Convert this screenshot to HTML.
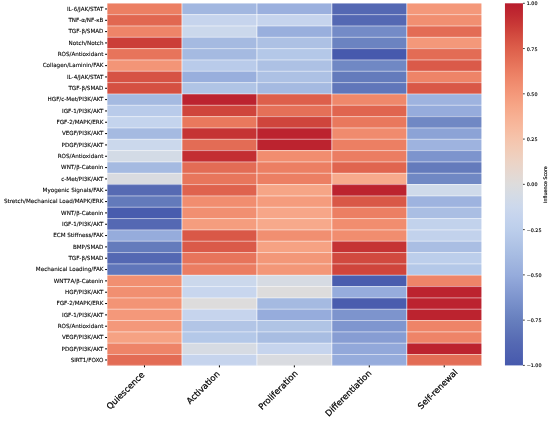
<!DOCTYPE html>
<html lang="en"><head><meta charset="utf-8"><title>Signaling pathway influence heatmap</title>
<style>html,body{margin:0;padding:0;background:#fff}body{width:550px;height:421px;overflow:hidden}svg{display:block}text{font-family:"DejaVu Sans","Liberation Sans",sans-serif;fill:#000}</style></head><body>
<svg width="550" height="421" viewBox="0 0 550 421">
<rect width="550" height="421" fill="#fff"/>
<defs><linearGradient id="cb" x1="0" y1="0" x2="0" y2="1"><stop offset="0.0000" stop-color="#b81c2d"/><stop offset="0.0312" stop-color="#c02a31"/><stop offset="0.0625" stop-color="#ca3b37"/><stop offset="0.0938" stop-color="#d44e41"/><stop offset="0.1250" stop-color="#dd5f4b"/><stop offset="0.1562" stop-color="#e46e56"/><stop offset="0.1875" stop-color="#eb7d62"/><stop offset="0.2188" stop-color="#f08b6e"/><stop offset="0.2500" stop-color="#f4987a"/><stop offset="0.2812" stop-color="#f6a586"/><stop offset="0.3125" stop-color="#f7b093"/><stop offset="0.3438" stop-color="#f7ba9f"/><stop offset="0.3750" stop-color="#f5c4ac"/><stop offset="0.4062" stop-color="#f1ccb8"/><stop offset="0.4375" stop-color="#ecd3c5"/><stop offset="0.4688" stop-color="#e5d8d1"/><stop offset="0.5000" stop-color="#dddcdc"/><stop offset="0.5312" stop-color="#d4dbe5"/><stop offset="0.5625" stop-color="#ccd8ec"/><stop offset="0.5938" stop-color="#c4d3ed"/><stop offset="0.6250" stop-color="#bcceeb"/><stop offset="0.6562" stop-color="#b3c6e7"/><stop offset="0.6875" stop-color="#a9bee3"/><stop offset="0.7188" stop-color="#a0b5df"/><stop offset="0.7500" stop-color="#96acdc"/><stop offset="0.7812" stop-color="#8aa0d5"/><stop offset="0.8125" stop-color="#7e95ce"/><stop offset="0.8438" stop-color="#728ac6"/><stop offset="0.8750" stop-color="#677fbe"/><stop offset="0.9062" stop-color="#5e74b8"/><stop offset="0.9375" stop-color="#5569b3"/><stop offset="0.9688" stop-color="#4e61b0"/><stop offset="1.0000" stop-color="#4659ad"/></linearGradient></defs>
<g shape-rendering="crispEdges">
<rect x="106.80" y="3.10" width="75.34" height="11.73" fill="#ec7f63"/>
<rect x="181.74" y="3.10" width="75.34" height="11.73" fill="#a2b7e0"/>
<rect x="256.68" y="3.10" width="75.34" height="11.73" fill="#9bb0de"/>
<rect x="331.62" y="3.10" width="75.34" height="11.73" fill="#5468b3"/>
<rect x="406.56" y="3.10" width="75.34" height="11.73" fill="#f4987a"/>
<rect x="106.80" y="14.43" width="75.34" height="11.73" fill="#e16751"/>
<rect x="181.74" y="14.43" width="75.34" height="11.73" fill="#c6d4ed"/>
<rect x="256.68" y="14.43" width="75.34" height="11.73" fill="#c6d4ed"/>
<rect x="331.62" y="14.43" width="75.34" height="11.73" fill="#5468b3"/>
<rect x="406.56" y="14.43" width="75.34" height="11.73" fill="#f18f71"/>
<rect x="106.80" y="25.76" width="75.34" height="11.73" fill="#ee8468"/>
<rect x="181.74" y="25.76" width="75.34" height="11.73" fill="#cbd8ec"/>
<rect x="256.68" y="25.76" width="75.34" height="11.73" fill="#99afdd"/>
<rect x="331.62" y="25.76" width="75.34" height="11.73" fill="#748bc7"/>
<rect x="406.56" y="25.76" width="75.34" height="11.73" fill="#e36c55"/>
<rect x="106.80" y="37.09" width="75.34" height="11.73" fill="#cb3e38"/>
<rect x="181.74" y="37.09" width="75.34" height="11.73" fill="#a5bae1"/>
<rect x="256.68" y="37.09" width="75.34" height="11.73" fill="#adc1e4"/>
<rect x="331.62" y="37.09" width="75.34" height="11.73" fill="#6b83c1"/>
<rect x="406.56" y="37.09" width="75.34" height="11.73" fill="#f4987a"/>
<rect x="106.80" y="48.42" width="75.34" height="11.73" fill="#e7745b"/>
<rect x="181.74" y="48.42" width="75.34" height="11.73" fill="#a5bae1"/>
<rect x="256.68" y="48.42" width="75.34" height="11.73" fill="#b4c8e8"/>
<rect x="331.62" y="48.42" width="75.34" height="11.73" fill="#4659ad"/>
<rect x="406.56" y="48.42" width="75.34" height="11.73" fill="#e36c55"/>
<rect x="106.80" y="59.75" width="75.34" height="11.73" fill="#f39577"/>
<rect x="181.74" y="59.75" width="75.34" height="11.73" fill="#b9cbea"/>
<rect x="256.68" y="59.75" width="75.34" height="11.73" fill="#adc1e4"/>
<rect x="331.62" y="59.75" width="75.34" height="11.73" fill="#7088c4"/>
<rect x="406.56" y="59.75" width="75.34" height="11.73" fill="#da5a49"/>
<rect x="106.80" y="71.08" width="75.34" height="11.73" fill="#d65244"/>
<rect x="181.74" y="71.08" width="75.34" height="11.73" fill="#99afdd"/>
<rect x="256.68" y="71.08" width="75.34" height="11.73" fill="#adc1e4"/>
<rect x="331.62" y="71.08" width="75.34" height="11.73" fill="#647bbc"/>
<rect x="406.56" y="71.08" width="75.34" height="11.73" fill="#ee8468"/>
<rect x="106.80" y="82.41" width="75.34" height="11.73" fill="#d55042"/>
<rect x="181.74" y="82.41" width="75.34" height="11.73" fill="#b0c4e5"/>
<rect x="256.68" y="82.41" width="75.34" height="11.73" fill="#a5bae1"/>
<rect x="331.62" y="82.41" width="75.34" height="11.73" fill="#6076ba"/>
<rect x="406.56" y="82.41" width="75.34" height="11.73" fill="#d95847"/>
<rect x="106.80" y="93.74" width="75.34" height="11.73" fill="#a5bae1"/>
<rect x="181.74" y="93.74" width="75.34" height="11.73" fill="#bc232f"/>
<rect x="256.68" y="93.74" width="75.34" height="11.73" fill="#dd5f4b"/>
<rect x="331.62" y="93.74" width="75.34" height="11.73" fill="#ef886b"/>
<rect x="406.56" y="93.74" width="75.34" height="11.73" fill="#9eb3df"/>
<rect x="106.80" y="105.07" width="75.34" height="11.73" fill="#b9cbea"/>
<rect x="181.74" y="105.07" width="75.34" height="11.73" fill="#cf453c"/>
<rect x="256.68" y="105.07" width="75.34" height="11.73" fill="#e57058"/>
<rect x="331.62" y="105.07" width="75.34" height="11.73" fill="#e0654f"/>
<rect x="406.56" y="105.07" width="75.34" height="11.73" fill="#96acdc"/>
<rect x="106.80" y="116.40" width="75.34" height="11.73" fill="#c4d4ed"/>
<rect x="181.74" y="116.40" width="75.34" height="11.73" fill="#e9785d"/>
<rect x="256.68" y="116.40" width="75.34" height="11.73" fill="#cf453c"/>
<rect x="331.62" y="116.40" width="75.34" height="11.73" fill="#e9785d"/>
<rect x="406.56" y="116.40" width="75.34" height="11.73" fill="#7088c4"/>
<rect x="106.80" y="127.73" width="75.34" height="11.73" fill="#a5bae1"/>
<rect x="181.74" y="127.73" width="75.34" height="11.73" fill="#c53334"/>
<rect x="256.68" y="127.73" width="75.34" height="11.73" fill="#bc232f"/>
<rect x="331.62" y="127.73" width="75.34" height="11.73" fill="#f08b6e"/>
<rect x="406.56" y="127.73" width="75.34" height="11.73" fill="#8ca3d6"/>
<rect x="106.80" y="139.06" width="75.34" height="11.73" fill="#cbd8ec"/>
<rect x="181.74" y="139.06" width="75.34" height="11.73" fill="#e36c55"/>
<rect x="256.68" y="139.06" width="75.34" height="11.73" fill="#bc232f"/>
<rect x="331.62" y="139.06" width="75.34" height="11.73" fill="#ec7f63"/>
<rect x="406.56" y="139.06" width="75.34" height="11.73" fill="#9eb3df"/>
<rect x="106.80" y="150.39" width="75.34" height="11.73" fill="#d3dbe6"/>
<rect x="181.74" y="150.39" width="75.34" height="11.73" fill="#c32e32"/>
<rect x="256.68" y="150.39" width="75.34" height="11.73" fill="#f18d6f"/>
<rect x="331.62" y="150.39" width="75.34" height="11.73" fill="#eb7d62"/>
<rect x="406.56" y="150.39" width="75.34" height="11.73" fill="#7d94cd"/>
<rect x="106.80" y="161.72" width="75.34" height="11.73" fill="#a5bae1"/>
<rect x="181.74" y="161.72" width="75.34" height="11.73" fill="#e36c55"/>
<rect x="256.68" y="161.72" width="75.34" height="11.73" fill="#ec7f63"/>
<rect x="331.62" y="161.72" width="75.34" height="11.73" fill="#e0654f"/>
<rect x="406.56" y="161.72" width="75.34" height="11.73" fill="#647bbc"/>
<rect x="106.80" y="173.05" width="75.34" height="11.73" fill="#d9dbe0"/>
<rect x="181.74" y="173.05" width="75.34" height="11.73" fill="#e8765c"/>
<rect x="256.68" y="173.05" width="75.34" height="11.73" fill="#ec7f63"/>
<rect x="331.62" y="173.05" width="75.34" height="11.73" fill="#f7aa8c"/>
<rect x="406.56" y="173.05" width="75.34" height="11.73" fill="#7088c4"/>
<rect x="106.80" y="184.38" width="75.34" height="11.73" fill="#566ab3"/>
<rect x="181.74" y="184.38" width="75.34" height="11.73" fill="#df634e"/>
<rect x="256.68" y="184.38" width="75.34" height="11.73" fill="#f6a586"/>
<rect x="331.62" y="184.38" width="75.34" height="11.73" fill="#bc232f"/>
<rect x="406.56" y="184.38" width="75.34" height="11.73" fill="#cfdaea"/>
<rect x="106.80" y="195.71" width="75.34" height="11.73" fill="#637abb"/>
<rect x="181.74" y="195.71" width="75.34" height="11.73" fill="#f18d6f"/>
<rect x="256.68" y="195.71" width="75.34" height="11.73" fill="#f59c7d"/>
<rect x="331.62" y="195.71" width="75.34" height="11.73" fill="#d95847"/>
<rect x="406.56" y="195.71" width="75.34" height="11.73" fill="#9eb3df"/>
<rect x="106.80" y="207.04" width="75.34" height="11.73" fill="#485cae"/>
<rect x="181.74" y="207.04" width="75.34" height="11.73" fill="#f18f71"/>
<rect x="256.68" y="207.04" width="75.34" height="11.73" fill="#f7a688"/>
<rect x="331.62" y="207.04" width="75.34" height="11.73" fill="#ec7f63"/>
<rect x="406.56" y="207.04" width="75.34" height="11.73" fill="#aabee3"/>
<rect x="106.80" y="218.37" width="75.34" height="11.73" fill="#5468b3"/>
<rect x="181.74" y="218.37" width="75.34" height="11.73" fill="#f59d7e"/>
<rect x="256.68" y="218.37" width="75.34" height="11.73" fill="#f7a98b"/>
<rect x="331.62" y="218.37" width="75.34" height="11.73" fill="#f18d6f"/>
<rect x="406.56" y="218.37" width="75.34" height="11.73" fill="#c2d2ec"/>
<rect x="106.80" y="229.70" width="75.34" height="11.73" fill="#96acdc"/>
<rect x="181.74" y="229.70" width="75.34" height="11.73" fill="#d95847"/>
<rect x="256.68" y="229.70" width="75.34" height="11.73" fill="#f18f71"/>
<rect x="331.62" y="229.70" width="75.34" height="11.73" fill="#f18d6f"/>
<rect x="406.56" y="229.70" width="75.34" height="11.73" fill="#c2d2ec"/>
<rect x="106.80" y="241.03" width="75.34" height="11.73" fill="#647bbc"/>
<rect x="181.74" y="241.03" width="75.34" height="11.73" fill="#da5a49"/>
<rect x="256.68" y="241.03" width="75.34" height="11.73" fill="#f6a283"/>
<rect x="331.62" y="241.03" width="75.34" height="11.73" fill="#c53334"/>
<rect x="406.56" y="241.03" width="75.34" height="11.73" fill="#aabee3"/>
<rect x="106.80" y="252.36" width="75.34" height="11.73" fill="#5468b3"/>
<rect x="181.74" y="252.36" width="75.34" height="11.73" fill="#e7745b"/>
<rect x="256.68" y="252.36" width="75.34" height="11.73" fill="#f39778"/>
<rect x="331.62" y="252.36" width="75.34" height="11.73" fill="#d1493f"/>
<rect x="406.56" y="252.36" width="75.34" height="11.73" fill="#bcceeb"/>
<rect x="106.80" y="263.69" width="75.34" height="11.73" fill="#6076ba"/>
<rect x="181.74" y="263.69" width="75.34" height="11.73" fill="#eb7d62"/>
<rect x="256.68" y="263.69" width="75.34" height="11.73" fill="#f39778"/>
<rect x="331.62" y="263.69" width="75.34" height="11.73" fill="#cf453c"/>
<rect x="406.56" y="263.69" width="75.34" height="11.73" fill="#b4c8e8"/>
<rect x="106.80" y="275.02" width="75.34" height="11.73" fill="#f18f71"/>
<rect x="181.74" y="275.02" width="75.34" height="11.73" fill="#cbd8ec"/>
<rect x="256.68" y="275.02" width="75.34" height="11.73" fill="#d6dbe3"/>
<rect x="331.62" y="275.02" width="75.34" height="11.73" fill="#4a5dae"/>
<rect x="406.56" y="275.02" width="75.34" height="11.73" fill="#ee8468"/>
<rect x="106.80" y="286.35" width="75.34" height="11.73" fill="#f18f71"/>
<rect x="181.74" y="286.35" width="75.34" height="11.73" fill="#c8d6ee"/>
<rect x="256.68" y="286.35" width="75.34" height="11.73" fill="#dddcdc"/>
<rect x="331.62" y="286.35" width="75.34" height="11.73" fill="#96acdc"/>
<rect x="406.56" y="286.35" width="75.34" height="11.73" fill="#bc232f"/>
<rect x="106.80" y="297.68" width="75.34" height="11.73" fill="#f39475"/>
<rect x="181.74" y="297.68" width="75.34" height="11.73" fill="#dddcdc"/>
<rect x="256.68" y="297.68" width="75.34" height="11.73" fill="#a5bae1"/>
<rect x="331.62" y="297.68" width="75.34" height="11.73" fill="#4a5dae"/>
<rect x="406.56" y="297.68" width="75.34" height="11.73" fill="#bc232f"/>
<rect x="106.80" y="309.01" width="75.34" height="11.73" fill="#f4987a"/>
<rect x="181.74" y="309.01" width="75.34" height="11.73" fill="#c6d4ed"/>
<rect x="256.68" y="309.01" width="75.34" height="11.73" fill="#96acdc"/>
<rect x="331.62" y="309.01" width="75.34" height="11.73" fill="#7d94cd"/>
<rect x="406.56" y="309.01" width="75.34" height="11.73" fill="#bc232f"/>
<rect x="106.80" y="320.34" width="75.34" height="11.73" fill="#f4987a"/>
<rect x="181.74" y="320.34" width="75.34" height="11.73" fill="#b2c5e6"/>
<rect x="256.68" y="320.34" width="75.34" height="11.73" fill="#b0c4e5"/>
<rect x="331.62" y="320.34" width="75.34" height="11.73" fill="#7f96cf"/>
<rect x="406.56" y="320.34" width="75.34" height="11.73" fill="#ee8468"/>
<rect x="106.80" y="331.67" width="75.34" height="11.73" fill="#f6a283"/>
<rect x="181.74" y="331.67" width="75.34" height="11.73" fill="#b4c8e8"/>
<rect x="256.68" y="331.67" width="75.34" height="11.73" fill="#a8bde2"/>
<rect x="331.62" y="331.67" width="75.34" height="11.73" fill="#879dd3"/>
<rect x="406.56" y="331.67" width="75.34" height="11.73" fill="#ee8468"/>
<rect x="106.80" y="343.00" width="75.34" height="11.73" fill="#ee8468"/>
<rect x="181.74" y="343.00" width="75.34" height="11.73" fill="#d6dbe3"/>
<rect x="256.68" y="343.00" width="75.34" height="11.73" fill="#c6d4ed"/>
<rect x="331.62" y="343.00" width="75.34" height="11.73" fill="#92a8da"/>
<rect x="406.56" y="343.00" width="75.34" height="11.73" fill="#bc232f"/>
<rect x="106.80" y="354.33" width="75.34" height="11.27" fill="#e36c55"/>
<rect x="181.74" y="354.33" width="75.34" height="11.27" fill="#c6d4ed"/>
<rect x="256.68" y="354.33" width="75.34" height="11.27" fill="#d9dbe0"/>
<rect x="331.62" y="354.33" width="75.34" height="11.27" fill="#96acdc"/>
<rect x="406.56" y="354.33" width="75.34" height="11.27" fill="#e36c55"/>
</g>
<g stroke="#fff" stroke-width="0.55" fill="none">
<line x1="106.70" y1="3.30" x2="482.00" y2="3.30"/>
<line x1="106.70" y1="14.63" x2="482.00" y2="14.63"/>
<line x1="106.70" y1="25.96" x2="482.00" y2="25.96"/>
<line x1="106.70" y1="37.29" x2="482.00" y2="37.29"/>
<line x1="106.70" y1="48.62" x2="482.00" y2="48.62"/>
<line x1="106.70" y1="59.95" x2="482.00" y2="59.95"/>
<line x1="106.70" y1="71.28" x2="482.00" y2="71.28"/>
<line x1="106.70" y1="82.61" x2="482.00" y2="82.61"/>
<line x1="106.70" y1="93.94" x2="482.00" y2="93.94"/>
<line x1="106.70" y1="105.27" x2="482.00" y2="105.27"/>
<line x1="106.70" y1="116.60" x2="482.00" y2="116.60"/>
<line x1="106.70" y1="127.93" x2="482.00" y2="127.93"/>
<line x1="106.70" y1="139.26" x2="482.00" y2="139.26"/>
<line x1="106.70" y1="150.59" x2="482.00" y2="150.59"/>
<line x1="106.70" y1="161.92" x2="482.00" y2="161.92"/>
<line x1="106.70" y1="173.25" x2="482.00" y2="173.25"/>
<line x1="106.70" y1="184.58" x2="482.00" y2="184.58"/>
<line x1="106.70" y1="195.91" x2="482.00" y2="195.91"/>
<line x1="106.70" y1="207.24" x2="482.00" y2="207.24"/>
<line x1="106.70" y1="218.57" x2="482.00" y2="218.57"/>
<line x1="106.70" y1="229.90" x2="482.00" y2="229.90"/>
<line x1="106.70" y1="241.23" x2="482.00" y2="241.23"/>
<line x1="106.70" y1="252.56" x2="482.00" y2="252.56"/>
<line x1="106.70" y1="263.89" x2="482.00" y2="263.89"/>
<line x1="106.70" y1="275.22" x2="482.00" y2="275.22"/>
<line x1="106.70" y1="286.55" x2="482.00" y2="286.55"/>
<line x1="106.70" y1="297.88" x2="482.00" y2="297.88"/>
<line x1="106.70" y1="309.21" x2="482.00" y2="309.21"/>
<line x1="106.70" y1="320.54" x2="482.00" y2="320.54"/>
<line x1="106.70" y1="331.87" x2="482.00" y2="331.87"/>
<line x1="106.70" y1="343.20" x2="482.00" y2="343.20"/>
<line x1="106.70" y1="354.53" x2="482.00" y2="354.53"/>
<line x1="106.70" y1="365.40" x2="482.00" y2="365.40"/>
<line x1="107.00" y1="3.00" x2="107.00" y2="365.70" stroke-width="0.7"/>
<line x1="181.94" y1="3.00" x2="181.94" y2="365.70" stroke-width="0.7"/>
<line x1="256.88" y1="3.00" x2="256.88" y2="365.70" stroke-width="0.7"/>
<line x1="331.82" y1="3.00" x2="331.82" y2="365.70" stroke-width="0.7"/>
<line x1="406.76" y1="3.00" x2="406.76" y2="365.70" stroke-width="0.7"/>
<line x1="481.70" y1="3.00" x2="481.70" y2="365.70" stroke-width="0.7"/>
</g>
<g stroke="#000" stroke-width="1.0">
<line x1="105.05" y1="8.96" x2="107.00" y2="8.96"/>
<line x1="105.05" y1="20.30" x2="107.00" y2="20.30"/>
<line x1="105.05" y1="31.62" x2="107.00" y2="31.62"/>
<line x1="105.05" y1="42.95" x2="107.00" y2="42.95"/>
<line x1="105.05" y1="54.28" x2="107.00" y2="54.28"/>
<line x1="105.05" y1="65.61" x2="107.00" y2="65.61"/>
<line x1="105.05" y1="76.94" x2="107.00" y2="76.94"/>
<line x1="105.05" y1="88.28" x2="107.00" y2="88.28"/>
<line x1="105.05" y1="99.60" x2="107.00" y2="99.60"/>
<line x1="105.05" y1="110.94" x2="107.00" y2="110.94"/>
<line x1="105.05" y1="122.26" x2="107.00" y2="122.26"/>
<line x1="105.05" y1="133.59" x2="107.00" y2="133.59"/>
<line x1="105.05" y1="144.93" x2="107.00" y2="144.93"/>
<line x1="105.05" y1="156.25" x2="107.00" y2="156.25"/>
<line x1="105.05" y1="167.59" x2="107.00" y2="167.59"/>
<line x1="105.05" y1="178.92" x2="107.00" y2="178.92"/>
<line x1="105.05" y1="190.25" x2="107.00" y2="190.25"/>
<line x1="105.05" y1="201.58" x2="107.00" y2="201.58"/>
<line x1="105.05" y1="212.91" x2="107.00" y2="212.91"/>
<line x1="105.05" y1="224.24" x2="107.00" y2="224.24"/>
<line x1="105.05" y1="235.56" x2="107.00" y2="235.56"/>
<line x1="105.05" y1="246.90" x2="107.00" y2="246.90"/>
<line x1="105.05" y1="258.23" x2="107.00" y2="258.23"/>
<line x1="105.05" y1="269.56" x2="107.00" y2="269.56"/>
<line x1="105.05" y1="280.88" x2="107.00" y2="280.88"/>
<line x1="105.05" y1="292.22" x2="107.00" y2="292.22"/>
<line x1="105.05" y1="303.55" x2="107.00" y2="303.55"/>
<line x1="105.05" y1="314.88" x2="107.00" y2="314.88"/>
<line x1="105.05" y1="326.21" x2="107.00" y2="326.21"/>
<line x1="105.05" y1="337.53" x2="107.00" y2="337.53"/>
<line x1="105.05" y1="348.87" x2="107.00" y2="348.87"/>
<line x1="105.05" y1="359.97" x2="107.00" y2="359.97"/>
<line x1="144.47" y1="365.40" x2="144.47" y2="367.35"/>
<line x1="219.41" y1="365.40" x2="219.41" y2="367.35"/>
<line x1="294.35" y1="365.40" x2="294.35" y2="367.35"/>
<line x1="369.29" y1="365.40" x2="369.29" y2="367.35"/>
<line x1="444.23" y1="365.40" x2="444.23" y2="367.35"/>
</g>
<g font-size="5.62" text-anchor="end" stroke="#000" stroke-width="0.1">
<text x="103.45" y="10.71">IL-6/JAK/STAT</text>
<text x="103.45" y="22.04">TNF-α/NF-κB</text>
<text x="103.45" y="33.37">TGF-β/SMAD</text>
<text x="103.45" y="44.70">Notch/Notch</text>
<text x="103.45" y="56.03">ROS/Antioxidant</text>
<text x="103.45" y="67.36">Collagen/Laminin/FAK</text>
<text x="103.45" y="78.69">IL-4/JAK/STAT</text>
<text x="103.45" y="90.02">TGF-β/SMAD</text>
<text x="103.45" y="101.35">HGF/c-Met/PI3K/AKT</text>
<text x="103.45" y="112.68">IGF-1/PI3K/AKT</text>
<text x="103.45" y="124.01">FGF-2/MAPK/ERK</text>
<text x="103.45" y="135.34">VEGF/PI3K/AKT</text>
<text x="103.45" y="146.67">PDGF/PI3K/AKT</text>
<text x="103.45" y="158.00">ROS/Antioxidant</text>
<text x="103.45" y="169.33">WNT/β-Catenin</text>
<text x="103.45" y="180.66">c-Met/PI3K/AKT</text>
<text x="103.45" y="191.99">Myogenic Signals/FAK</text>
<text x="103.45" y="203.32">Stretch/Mechanical Load/MAPK/ERK</text>
<text x="103.45" y="214.65">WNT/β-Catenin</text>
<text x="103.45" y="225.98">IGF-1/PI3K/AKT</text>
<text x="103.45" y="237.31">ECM Stiffness/FAK</text>
<text x="103.45" y="248.64">BMP/SMAD</text>
<text x="103.45" y="259.97">TGF-β/SMAD</text>
<text x="103.45" y="271.30">Mechanical Loading/FAK</text>
<text x="103.45" y="282.63">WNT7A/β-Catenin</text>
<text x="103.45" y="293.96">HGF/PI3K/AKT</text>
<text x="103.45" y="305.29">FGF-2/MAPK/ERK</text>
<text x="103.45" y="316.62">IGF-1/PI3K/AKT</text>
<text x="103.45" y="327.95">ROS/Antioxidant</text>
<text x="103.45" y="339.28">VEGF/PI3K/AKT</text>
<text x="103.45" y="350.61">PDGF/PI3K/AKT</text>
<text x="103.45" y="361.71">SIRT1/FOXO</text>
</g>
<g font-size="8.50" text-anchor="end" stroke="#000" stroke-width="0.22">
<text transform="translate(144.97 375.20) rotate(-45)">Quiescence</text>
<text transform="translate(220.21 374.50) rotate(-45)">Activation</text>
<text transform="translate(298.35 374.00) rotate(-45)">Proliferation</text>
<text transform="translate(371.99 373.70) rotate(-45)">Differentiation</text>
<text transform="translate(458.23 372.70) rotate(-45)">Self-renewal</text>
</g>
<rect x="504.95" y="3.30" width="18.00" height="362.10" fill="url(#cb)"/>
<g stroke="#000" stroke-width="0.8">
<line x1="523.05" y1="3.30" x2="524.75" y2="3.30"/>
<line x1="523.05" y1="48.56" x2="524.75" y2="48.56"/>
<line x1="523.05" y1="93.82" x2="524.75" y2="93.82"/>
<line x1="523.05" y1="139.09" x2="524.75" y2="139.09"/>
<line x1="523.05" y1="184.35" x2="524.75" y2="184.35"/>
<line x1="523.05" y1="229.61" x2="524.75" y2="229.61"/>
<line x1="523.05" y1="274.88" x2="524.75" y2="274.88"/>
<line x1="523.05" y1="320.14" x2="524.75" y2="320.14"/>
<line x1="523.05" y1="365.40" x2="524.75" y2="365.40"/>
</g>
<g font-size="4.80" stroke="#000" stroke-width="0.14">
<text x="526.75" y="5.36">1.00</text>
<text x="526.75" y="50.63">0.75</text>
<text x="526.75" y="95.89">0.50</text>
<text x="526.75" y="141.15">0.25</text>
<text x="526.75" y="186.41">0.00</text>
<text x="526.75" y="231.68">−0.25</text>
<text x="526.75" y="276.94">−0.50</text>
<text x="526.75" y="322.20">−0.75</text>
<text x="526.75" y="367.46">−1.00</text>
</g>
<text font-size="4.75" text-anchor="middle" stroke="#000" stroke-width="0.14" transform="translate(546.90 184.60) rotate(-90)">Influence Score</text>
</svg></body></html>
